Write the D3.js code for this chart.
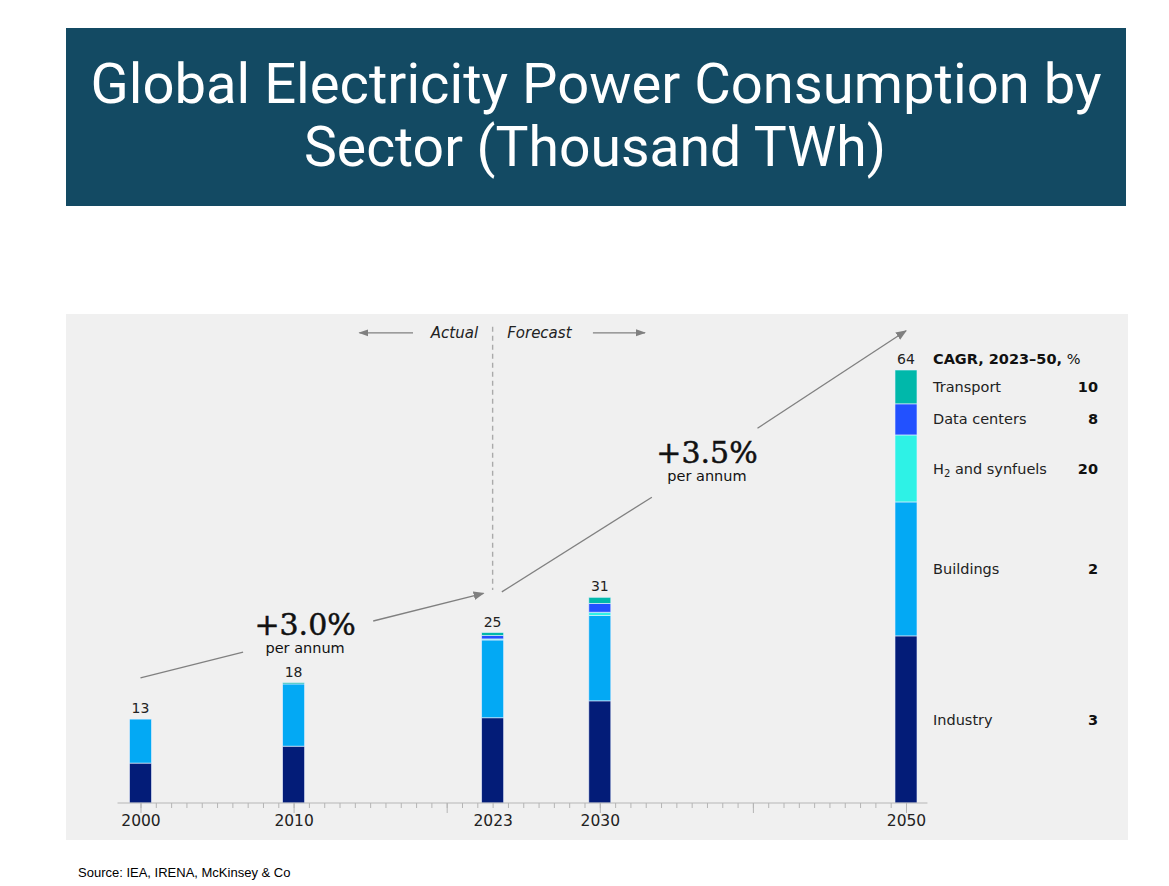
<!DOCTYPE html>
<html>
<head>
<meta charset="utf-8">
<script src="https://cdn.jsdelivr.net/npm/d3@7"></script>
<style>
  body { margin: 0; background: #ffffff; }
  svg { display: block; }
</style>
</head>
<body>
<div id="chart"></div>
<script>
// data, thousand TWh
var years = [2000, 2010, 2023, 2030, 2050];
var totals = [13, 18, 25, 31, 64];
var sectors = ["Industry", "Buildings", "H2 and synfuels", "Data centers", "Transport"];
var industry = [5.9, 8.4, 12.6, 15.1, 24.7];
var buildings = [6.5, 9.2, 11.5, 12.6, 19.8];
var h2 = [0, 0, 0.15, 0.5, 9.9];
var dataCenters = [0, 0, 0.5, 1.3, 4.6];
var transport = [0, 0.2, 0.45, 0.9, 5.0];
var cagr = [3, 2, 20, 8, 10];
var labelYears = [2000, 2010, 2023, 2030, 2050];

var colors = {
  "Industry": "#031c78",
  "Buildings": "#03a9f4",
  "H2 and synfuels": "#2ef2e6",
  "Data centers": "#2251ff",
  "Transport": "#00b8aa"
};

var W = 1169, H = 886;
var svg = d3.select("#chart").append("svg").attr("width", W).attr("height", H);

// title box
svg.append("rect").attr("x", 66).attr("y", 28).attr("width", 1060).attr("height", 178).attr("fill", "#134a63");
svg.append("text").attr("x", 596).attr("y", 103).attr("text-anchor", "middle")
  .attr("textLength", 1011).attr("lengthAdjust", "spacingAndGlyphs")
  .style("font-family", "Roboto").style("font-size", "55px").style("fill", "#ffffff")
  .text("Global Electricity Power Consumption by");
svg.append("text").attr("x", 595).attr("y", 166).attr("text-anchor", "middle")
  .attr("textLength", 582).attr("lengthAdjust", "spacingAndGlyphs")
  .style("font-family", "Roboto").style("font-size", "55px").style("fill", "#ffffff")
  .text("Sector (Thousand TWh)");

// chart panel
svg.append("rect").attr("x", 66).attr("y", 314).attr("width", 1062).attr("height", 526).attr("fill", "#f0f0f0");

var x = d3.scaleLinear().domain([2000, 2050]).range([140.5, 906]);
var y = d3.scaleLinear().domain([0, 64]).range([803, 370]);
var barW = 22;

// stack
var table = years.map(function (yr, i) {
  return {
    year: yr,
    "Industry": industry[i],
    "Buildings": buildings[i],
    "H2 and synfuels": h2[i],
    "Data centers": dataCenters[i],
    "Transport": transport[i]
  };
});
var series = d3.stack().keys(sectors)(table);

var g = svg.append("g");
series.forEach(function (s) {
  g.selectAll(null)
    .data(s.filter(function (d) { return d[1] - d[0] > 0; }))
    .enter()
    .append("rect")
    .attr("x", function (d) { return x(d.data.year) - barW / 2; })
    .attr("y", function (d) { return y(d[1]); })
    .attr("width", barW)
    .attr("height", function (d) { return y(d[0]) - y(d[1]); })
    .attr("fill", colors[s.key])
    .attr("stroke", "rgba(235,240,255,0.75)")
    .attr("stroke-width", 0.8);
});

// totals
g.selectAll(".total")
  .data(years)
  .enter()
  .append("text")
  .attr("x", function (d) { return x(d); })
  .attr("y", function (d, i) { return y(d3.sum([industry[i], buildings[i], h2[i], dataCenters[i], transport[i]])) - 6; })
  .attr("text-anchor", "middle")
  .style("font-family", "DejaVu Sans")
  .style("font-size", "14px")
  .style("fill", "#222")
  .text(function (d, i) { return totals[i]; });

// x axis
svg.append("line").attr("x1", x(1998.5)).attr("x2", x(2051.4)).attr("y1", 803).attr("y2", 803)
  .attr("stroke", "#b5b5b5").attr("stroke-width", 1.2);

var minor = svg.append("g").attr("transform", "translate(0,803)")
  .call(d3.axisBottom(x).tickValues(d3.range(2000, 2051)).tickSize(5).tickFormat(""));
var major = svg.append("g").attr("transform", "translate(0,803)")
  .call(d3.axisBottom(x).tickValues(d3.range(2000, 2051, 10)).tickSize(10).tickFormat(""));
var labels = svg.append("g").attr("transform", "translate(0,803)")
  .call(d3.axisBottom(x).tickValues(labelYears).tickSize(0).tickPadding(12).tickFormat(d3.format("d")));
svg.selectAll(".domain").remove();
svg.selectAll(".tick line").attr("stroke", "#b5b5b5");
labels.selectAll("text").style("font-family", "DejaVu Sans").style("font-size", "15.5px").style("fill", "#222");

// arrow marker
var defs = svg.append("defs");
defs.append("marker").attr("id", "arr").attr("viewBox", "0 0 10 10").attr("refX", 9).attr("refY", 5)
  .attr("markerWidth", 11).attr("markerHeight", 11).attr("markerUnits", "userSpaceOnUse").attr("orient", "auto")
  .append("path").attr("d", "M0,1 L10,5 L0,9 Z").attr("fill", "#808080");
defs.append("marker").attr("id", "arrS").attr("viewBox", "0 0 10 10").attr("refX", 9).attr("refY", 5)
  .attr("markerWidth", 10).attr("markerHeight", 10).attr("markerUnits", "userSpaceOnUse").attr("orient", "auto")
  .append("path").attr("d", "M0,1.5 L10,5 L0,8.5 Z").attr("fill", "#808080");

// actual / forecast divider
svg.append("line").attr("x1", x(2023)).attr("x2", x(2023)).attr("y1", y(70.4)).attr("y2", y(31.5))
  .attr("stroke", "#aaaaaa").attr("stroke-width", 1.4).attr("stroke-dasharray", "5,4");
svg.append("line").attr("x1", x(2017.8)).attr("x2", x(2014.3)).attr("y1", y(69.5)).attr("y2", y(69.5))
  .attr("stroke", "#808080").attr("stroke-width", 1.2).attr("marker-end", "url(#arrS)");
svg.append("line").attr("x1", x(2029.55)).attr("x2", x(2032.95)).attr("y1", y(69.5)).attr("y2", y(69.5))
  .attr("stroke", "#808080").attr("stroke-width", 1.2).attr("marker-end", "url(#arrS)");
svg.append("text").attr("x", x(2022.05)).attr("y", y(69.5)).attr("dy", "0.35em").attr("text-anchor", "end")
  .style("font-family", "DejaVu Sans").style("font-style", "italic").style("font-size", "15px").style("fill", "#222")
  .text("Actual");
svg.append("text").attr("x", x(2023.95)).attr("y", y(69.5)).attr("dy", "0.35em")
  .style("font-family", "DejaVu Sans").style("font-style", "italic").style("font-size", "15px").style("fill", "#222")
  .text("Forecast");

// growth annotations
var growthLabels = ["+3.0%", "+3.5%"];
var growthPos = [[2010.75, 24.8], [2037.0, 50.3]];
var growthLines = [
  [[2000, 18.5], [2006.7, 22.3]],
  [[2015.2, 26.9], [2022.4, 31.0]],
  [[2023.6, 31.2], [2033.4, 45.2]],
  [[2040.3, 55.4], [2050, 69.8]]
];
growthLines.forEach(function (l, i) {
  svg.append("line")
    .attr("x1", x(l[0][0])).attr("y1", y(l[0][1]))
    .attr("x2", x(l[1][0])).attr("y2", y(l[1][1]))
    .attr("stroke", "#808080").attr("stroke-width", 1.3)
    .attr("marker-end", i % 2 === 1 ? "url(#arr)" : null);
});
growthLabels.forEach(function (t, i) {
  svg.append("text").attr("x", x(growthPos[i][0])).attr("y", y(growthPos[i][1])).attr("text-anchor", "middle")
    .style("font-family", "DejaVu Serif").style("font-size", "30px").style("fill", "#111")
    .style("stroke", "#111").style("stroke-width", 0.5)
    .text(t);
  svg.append("text").attr("x", x(growthPos[i][0])).attr("y", y(growthPos[i][1]) + 18).attr("text-anchor", "middle")
    .style("font-family", "DejaVu Sans").style("font-size", "14.5px").style("fill", "#111")
    .text("per annum");
});

// legend next to 2050 bar
var last = series.map(function (s) { return s[s.length - 1]; });
var lx = x(2050) + 27, vx = x(2050) + 192;
var head = svg.append("text").attr("x", lx).attr("y", y(64) - 6)
  .style("font-family", "DejaVu Sans").style("font-size", "14.5px").style("fill", "#111");
head.append("tspan").style("font-weight", "bold").text("CAGR, 2023\u201350,");
head.append("tspan").text(" %");

sectors.forEach(function (k, i) {
  var d = last[i];
  var cy = (y(d[0]) + y(d[1])) / 2;
  var t = svg.append("text").attr("x", lx).attr("y", cy).attr("dy", "0.35em")
    .style("font-family", "DejaVu Sans").style("font-size", "14.5px").style("fill", "#222");
  if (k === "H2 and synfuels") {
    t.append("tspan").text("H");
    t.append("tspan").attr("dy", "3").style("font-size", "10px").text("2");
    t.append("tspan").attr("dy", "-3").text(" and synfuels");
  } else {
    t.text(k);
  }
  svg.append("text").attr("x", vx).attr("y", cy).attr("dy", "0.35em").attr("text-anchor", "end")
    .style("font-family", "DejaVu Sans").style("font-size", "14.5px").style("font-weight", "bold").style("fill", "#111")
    .text(cagr[i]);
});

// source
svg.append("text").attr("x", 78).attr("y", 877)
  .style("font-family", "Liberation Sans").style("font-size", "13px").style("fill", "#000")
  .text("Source: IEA, IRENA, McKinsey & Co");
</script>
</body>
</html>
